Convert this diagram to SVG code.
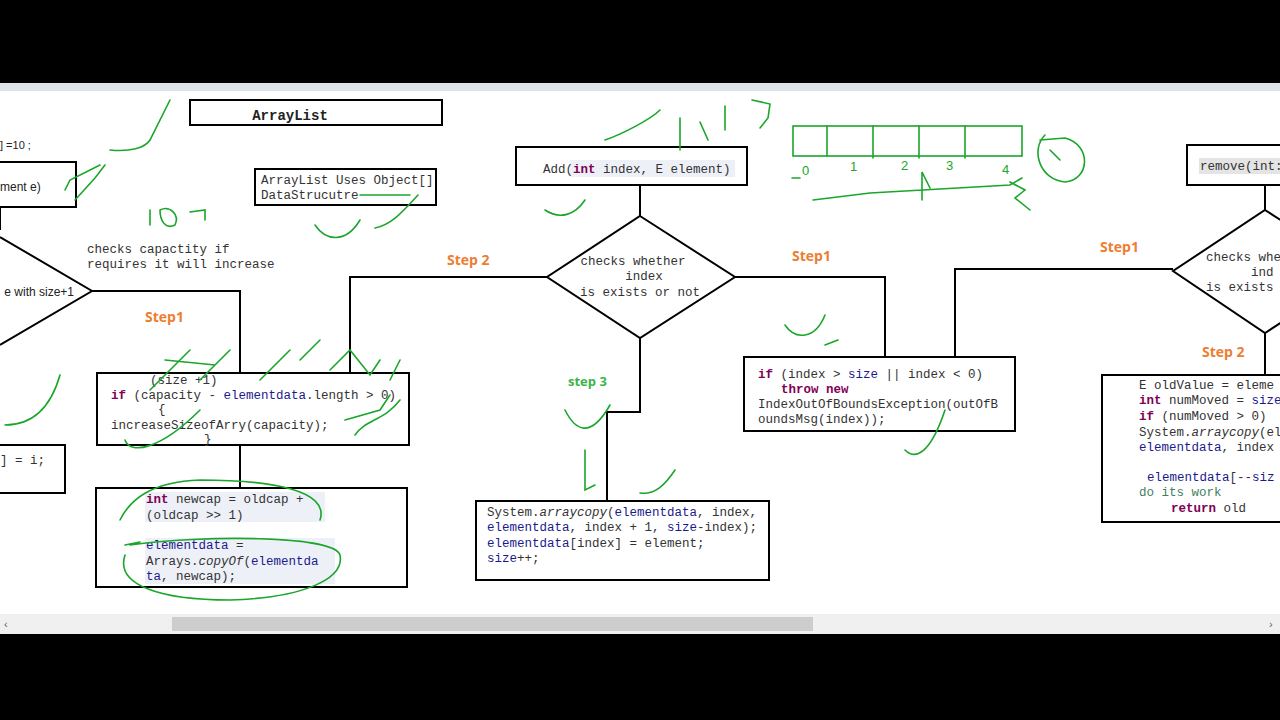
<svg xmlns="http://www.w3.org/2000/svg" width="1280" height="720" viewBox="0 0 1280 720">
<style>
.box{fill:#fff;stroke:#000;stroke-width:2}
.ln{fill:none;stroke:#000;stroke-width:2}
.code{font-family:"Liberation Mono",monospace;font-size:12.5px;fill:#333}
.kw{fill:#7f0055;font-weight:bold}
.id{fill:#1a1a8c}
.step{font-family:"Open Sans","Liberation Sans",sans-serif;font-weight:bold;font-size:14px;fill:#ed7d31}
.ink{fill:none;stroke:#1aa62a;stroke-width:1.6;stroke-linecap:round}
.inkt{font-family:"Liberation Sans",sans-serif;font-size:13px;fill:#1aa62a}
</style>
<rect x="0" y="0" width="1280" height="720" fill="#000"/>
<rect x="0" y="83" width="1280" height="8" fill="#dde3ea"/>
<rect x="0" y="91" width="1280" height="523" fill="#fff"/>
<rect x="0" y="614" width="1280" height="20" fill="#f0f0f0"/>
<rect x="172" y="617" width="641" height="14" fill="#cdcdcd"/>
<text x="4" y="628" font-family="Liberation Sans,sans-serif" font-size="11" fill="#606060">‹</text>
<text x="1269" y="628" font-family="Liberation Sans,sans-serif" font-size="11" fill="#606060">›</text>

<g id="connectors">
<path class="ln" d="M0 207V230"/>
<path class="ln" d="M92 291H240V373"/>
<path class="ln" d="M240 445V488"/>
<path class="ln" d="M640 185V216"/>
<path class="ln" d="M547 277H350V373"/>
<path class="ln" d="M735 277H885V357"/>
<path class="ln" d="M640 338V412H607V501"/>
<path class="ln" d="M955 357V269H1173"/>
<path class="ln" d="M1265 185V210"/>
<path class="ln" d="M1265 333V375"/>
</g>

<g id="title"><rect class="box" x="190" y="100" width="252" height="25"/><text x="290" y="120" text-anchor="middle" font-family="Liberation Mono,monospace" font-size="14" font-weight="bold" fill="#222">ArrayList</text></g>
<text x="0" y="149" font-family="Liberation Sans,sans-serif" font-size="11" fill="#222">] =10 ;</text>
<g id="left-box"><rect class="box" x="-5" y="162" width="81" height="45"/><text x="0" y="191" font-family="Liberation Sans,sans-serif" font-size="12" fill="#222">ment e)</text></g>
<g id="left-diamond"><path class="ln" d="M0 237L92 291L0 345"/><text x="74" y="296" text-anchor="end" font-family="Liberation Sans,sans-serif" font-size="12" fill="#222">e with size+1</text></g>
<text class="code" x="87" y="253">checks capactity if</text>
<text class="code" x="87" y="268">requires it will increase</text>
<text class="step" x="145" y="322">Step1</text>
<g id="capacity-box"><rect class="box" x="97" y="373" width="312" height="72"/>
<text class="code" x="150" y="384">(size +1)</text>
<text class="code" x="111" y="399"><tspan class="kw">if</tspan> (capacity - <tspan class="id">elementdata</tspan>.length &gt; 0)</text>
<text class="code" x="158" y="413">{</text>
<text class="code" x="111" y="429">increaseSizeofArry(capacity);</text>
<text class="code" x="204" y="443">}</text></g>
<g id="left-box2"><rect class="box" x="-5" y="445" width="70" height="48"/><text class="code" x="0" y="464">] = i;</text></g>
<g id="grow-box"><rect class="box" x="96" y="488" width="311" height="99"/>
<rect x="145" y="492" width="180" height="30" fill="#eef0f8"/>
<rect x="145" y="538" width="190" height="46" fill="#eef0f8"/>
<text class="code" x="146" y="503"><tspan class="kw">int</tspan> newcap = oldcap +</text>
<text class="code" x="146" y="519">(oldcap &gt;&gt; 1)</text>
<text class="code" x="146" y="549"><tspan class="id">elementdata</tspan> =</text>
<text class="code" x="146" y="565">Arrays.<tspan font-style="italic">copyOf</tspan>(<tspan class="id">elementda</tspan></text>
<text class="code" x="146" y="580"><tspan class="id">ta</tspan>, newcap);</text></g>
<g id="uses-box"><rect class="box" x="255" y="169" width="181" height="36"/>
<text class="code" x="261" y="184">ArrayList Uses Object[]</text>
<text class="code" x="261" y="199">DataStrucutre</text></g>

<g id="add-box"><rect class="box" x="516" y="147" width="231" height="38"/>
<rect x="570" y="160" width="165" height="17" fill="#eef0f8"/>
<text class="code" x="543" y="173">Add(<tspan class="kw">int</tspan> index, E element)</text></g>
<g id="add-diamond"><path class="box" d="M640 216L735 277L640 338L547 277Z"/>
<text class="code" x="633" y="265" text-anchor="middle">checks whether</text>
<text class="code" x="644" y="280" text-anchor="middle">index</text>
<text class="code" x="640" y="296" text-anchor="middle">is exists or not</text></g>
<text class="step" x="447" y="265">Step 2</text>
<text class="step" x="792" y="261">Step1</text>
<text class="step" x="568" y="386" style="fill:#3cb44b;font-size:13px">step 3</text>
<g id="check-box"><rect class="box" x="744" y="357" width="271" height="74"/>
<text class="code" x="758" y="378"><tspan class="kw">if</tspan> (index &gt; <tspan class="id">size</tspan> || index &lt; 0)</text>
<text class="code" x="781" y="393"><tspan class="kw">throw new</tspan></text>
<text class="code" x="758" y="408">IndexOutOfBoundsException(outOfB</text>
<text class="code" x="758" y="423">oundsMsg(index));</text></g>
<g id="copy-box"><rect class="box" x="476" y="501" width="293" height="79"/>
<text class="code" x="487" y="516">System.<tspan font-style="italic">arraycopy</tspan>(<tspan class="id">elementdata</tspan>, index,</text>
<text class="code" x="487" y="531"><tspan class="id">elementdata</tspan>, index + 1, <tspan class="id">size</tspan>-index);</text>
<text class="code" x="487" y="547"><tspan class="id">elementdata</tspan>[index] = element;</text>
<text class="code" x="487" y="562"><tspan class="id">size</tspan>++;</text></g>

<g id="remove-box"><rect class="box" x="1187" y="145" width="100" height="40"/>
<rect x="1199" y="158" width="81" height="16" fill="#e4e4e4"/>
<text class="code" x="1200" y="170">remove(int:</text></g>
<g id="remove-diamond"><path class="box" d="M1265 210L1360 271L1265 333L1173 271Z"/>
<text class="code" x="1206" y="261">checks whe</text>
<text class="code" x="1251" y="276">ind</text>
<text class="code" x="1206" y="291">is exists</text></g>
<text class="step" x="1100" y="252">Step1</text>
<text class="step" x="1202" y="357">Step 2</text>
<g id="remove-code"><rect class="box" x="1102" y="375" width="185" height="147"/>
<text class="code" x="1139" y="389">E oldValue = eleme</text>
<text class="code" x="1139" y="404"><tspan class="kw">int</tspan> numMoved = <tspan class="id">size</tspan></text>
<text class="code" x="1139" y="420"><tspan class="kw">if</tspan> (numMoved &gt; 0)</text>
<text class="code" x="1139" y="436">System.<tspan font-style="italic">arraycopy</tspan>(el</text>
<text class="code" x="1139" y="451"><tspan class="id">elementdata</tspan>, index</text>
<text class="code" x="1147" y="481"><tspan class="id">elementdata</tspan>[--<tspan class="id">siz</tspan></text>
<text class="code" x="1139" y="496" style="fill:#3f7f5f">do its work</text>
<text class="code" x="1171" y="512"><tspan class="kw">return</tspan> old</text></g>

<g id="ink">
<rect x="793" y="126" width="229" height="30" class="ink"/>
<path class="ink" d="M827 126V156M873 126V158M919 126V158M965 126V158"/>
<text class="inkt" x="802" y="175">0</text><text class="inkt" x="850" y="171">1</text><text class="inkt" x="901" y="170">2</text><text class="inkt" x="946" y="170">3</text><text class="inkt" x="1002" y="174">4</text>
<path class="ink" d="M792 178H800M813 200L870 193L1010 185L1022 178M922 200V172L930 188M1010 182L1025 190L1015 198L1030 210"/>
<path class="ink" d="M1045 135C1030 150 1040 180 1065 182C1090 180 1092 145 1065 138L1040 140M1050 150L1060 160"/>
<path class="ink" d="M752 100L770 104L768 118L760 128"/>
<path class="ink" d="M605 140C620 135 650 120 660 110M680 118V150M700 122L708 140M725 106V130"/>
<path class="ink" d="M110 150C130 152 145 148 150 140L170 100M65 190L70 180L100 165M75 200L95 178L105 165"/>
<path class="ink" d="M150 210V225M160 210C170 205 180 215 175 225C165 230 160 220 160 210M190 212L205 210V220"/>
<path class="ink" d="M315 225C325 240 345 245 360 220M375 228C390 225 400 215 418 195M360 195H410"/>
<path class="ink" d="M5 425C30 425 50 410 60 375"/>
<path class="ink" d="M125 440C130 455 160 450 200 410M150 390L190 350M165 360L215 365M200 380L230 350M260 380L290 350M300 360L320 340M330 370L350 350L370 375L380 360M390 380L400 360M345 420L380 410L390 395M355 435C365 420 385 420 400 400"/>
<path class="ink" d="M320 520C330 490 270 480 200 480C150 482 130 500 120 520M125 545L140 542M125 555C115 585 160 600 230 600C300 598 345 580 340 555C335 535 200 535 130 545"/>
<path class="ink" d="M545 210C560 220 575 215 585 200M565 410C575 430 590 440 610 405M585 450V490L595 485M640 493C655 495 665 485 675 470"/>
<path class="ink" d="M785 325C795 340 815 340 825 315M825 345L838 340M905 450C915 460 930 455 945 410"/>
</g>
</svg>
